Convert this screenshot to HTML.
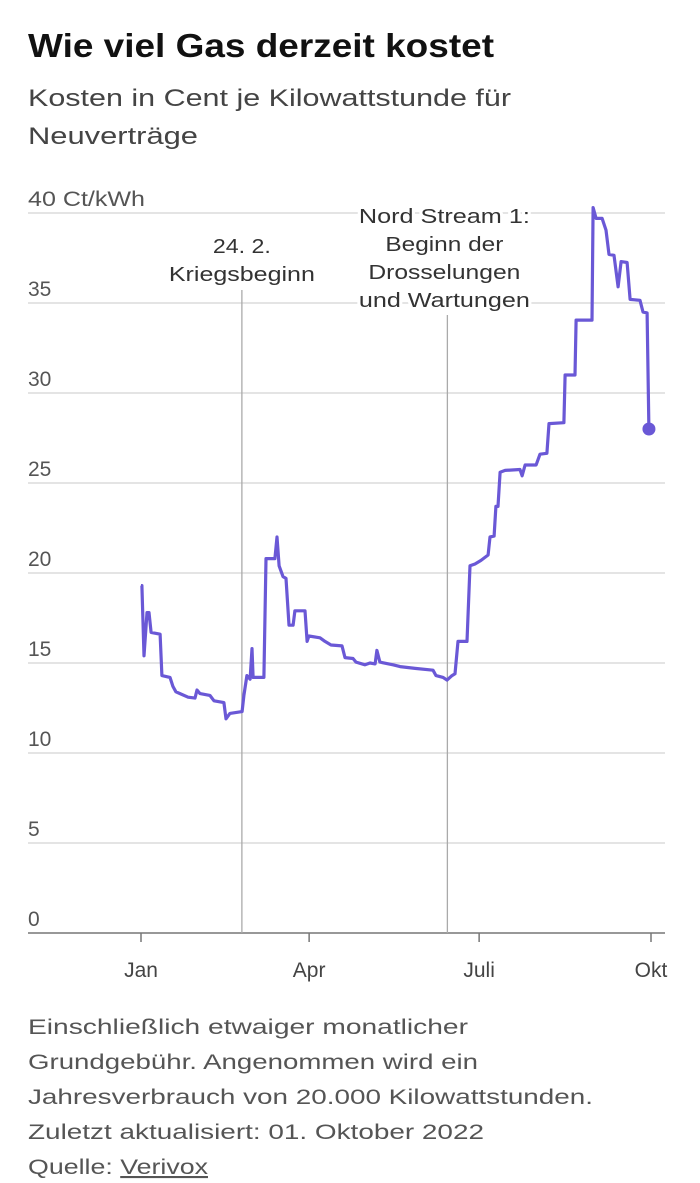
<!DOCTYPE html>
<html><head><meta charset="utf-8"><style>
body{margin:0;width:700px;height:1183px;background:#fff;font-family:"Liberation Sans",sans-serif;overflow:hidden}
</style></head><body>
<svg width="700" height="1183" style="position:absolute;left:0;top:0">
<text x="28" y="57" font-size="33" font-weight="bold" fill="#111" textLength="466" lengthAdjust="spacingAndGlyphs">Wie viel Gas derzeit kostet</text>
<text x="28" y="106" font-size="24" fill="#444" textLength="483" lengthAdjust="spacingAndGlyphs">Kosten in Cent je Kilowattstunde für</text>
<text x="28" y="144" font-size="24" fill="#444" textLength="170" lengthAdjust="spacingAndGlyphs">Neuverträge</text>
<g id="grid"></g>
<g id="ann"></g>
<g id="marks"></g>
<g font-size="21" fill="#555">
<text x="28" y="1034" textLength="440" lengthAdjust="spacingAndGlyphs">Einschließlich etwaiger monatlicher</text>
<text x="28" y="1069" textLength="450" lengthAdjust="spacingAndGlyphs">Grundgebühr. Angenommen wird ein</text>
<text x="28" y="1104" textLength="565" lengthAdjust="spacingAndGlyphs">Jahresverbrauch von 20.000 Kilowattstunden.</text>
<text x="28" y="1139" textLength="456" lengthAdjust="spacingAndGlyphs">Zuletzt aktualisiert: 01. Oktober 2022</text>
<text x="28" y="1174" textLength="180" lengthAdjust="spacingAndGlyphs">Quelle: <tspan text-decoration="underline">Verivox</tspan></text>
</g>
</svg>
<script>
const yTicks=[0,5,10,15,20,25,30,35,40];
const yTickLabels=["0","5","10","15","20","25","30","35","40 Ct/kWh"];
const xTickDays=[0,90,181,273];
const xTickLabels=["Jan","Apr","Juli","Okt"];
const days=[0,0.5,1.6,3.2,4.3,5.4,10.2,11.2,15.5,17.1,18.7,20.9,25.2,28.9,30.0,31.6,36.9,39.1,44.4,45.5,47.6,54.1,55.1,56.7,58.4,59.4,60.0,65.8,66.9,71.7,72.8,73.9,76.0,77.6,79.2,81.4,82.4,87.8,88.9,89.9,95.8,98.5,101.7,107.6,109.2,113.5,115.1,119.9,122.6,125.3,126.3,127.9,134.9,138.7,146.7,156.3,157.9,161.7,163.8,166.5,168.1,169.7,174.5,176.1,178.8,182.0,185.8,186.8,189.0,190.0,191.1,192.2,194.9,202.9,204.0,205.6,211.5,213.6,217.3,218.4,226.4,227.0,232.3,232.9,241.4,242.0,243.6,246.8,248.9,250.5,253.2,255.4,257.0,260.2,261.8,267.1,268.7,270.9,271.9];
const prices=[19.3,19.3,15.4,17.8,17.8,16.7,16.6,14.3,14.2,13.7,13.4,13.3,13.1,13.05,13.5,13.3,13.2,12.9,12.8,11.9,12.2,12.3,13.2,14.3,14.1,15.8,14.2,14.2,20.8,20.8,22.0,20.4,19.8,19.7,17.1,17.1,17.9,17.9,16.2,16.5,16.4,16.2,16.0,15.95,15.3,15.25,15.05,14.9,15.0,14.95,15.7,15.05,14.9,14.8,14.7,14.6,14.3,14.2,14.05,14.3,14.4,16.2,16.2,20.4,20.5,20.7,21.0,22.0,22.05,23.7,23.7,25.6,25.7,25.75,25.4,26.0,26.0,26.6,26.65,28.3,28.35,31.0,31.0,34.05,34.05,40.3,39.7,39.7,39.05,37.7,37.65,35.9,37.3,37.25,35.2,35.15,34.5,34.45,28.0];
const annDays=[54,164];
const NS="http://www.w3.org/2000/svg";
const X=d=>141+d*(510/273);
const Y=v=>933-v*18;
function mk(tag,attrs,parent,txt){const e=document.createElementNS(NS,tag);for(const k in attrs)e.setAttribute(k,attrs[k]);if(txt!==undefined)e.textContent=txt;document.getElementById(parent).appendChild(e);return e;}
yTicks.forEach((v,i)=>{
  const l=mk('line',{x1:28,x2:665,y1:Y(v),y2:Y(v),stroke:v===0?'#777':'#d4d4d4','stroke-width':v===0?1.5:1.2},'grid');
  
  
  const a={x:28,y:Y(v)-7,'font-size':21,fill:'#555'};
  if(i===yTicks.length-1){a.textLength=117;a.lengthAdjust='spacingAndGlyphs';}
  const t=mk('text',a,'grid',yTickLabels[i]);
  
  
});
xTickDays.forEach((d,i)=>{
  const l=mk('line',{x1:X(d),x2:X(d),y1:933,y2:942,stroke:'#777','stroke-width':1.5},'grid');
  
  
  const t=mk('text',{x:X(d),y:977,'font-size':21,fill:'#444','text-anchor':'middle'},'grid',xTickLabels[i]);
  
  
});
const annTop=[290,315];
const annText=[["24. 2.","Kriegsbeginn"],["Nord Stream 1:","Beginn der","Drosselungen","und Wartungen"]];
const annW=[[58,146],[171,118,152,171]];
const annY=[[253,281],[223,251,279,307]];
annDays.forEach((d,i)=>{
  const l=mk('line',{x1:X(d),x2:X(d),y1:annTop[i],y2:933,stroke:'#aaa','stroke-width':1.3},'ann');
  
  
  annText[i].forEach((s,j)=>{
    const t=mk('text',{x:X(d)-(i?3:0),y:annY[i][j],'font-size':20,fill:'#333','text-anchor':'middle',stroke:'#fff','stroke-width':5,'paint-order':'stroke',textLength:annW[i][j],lengthAdjust:'spacingAndGlyphs'},'ann',s);
    
    
  });
});
const pts=days.map((d,i)=>X(d).toFixed(1)+','+Y(prices[i]).toFixed(1)).join(' ');
const pl=mk('polyline',{points:pts,fill:'none',stroke:'#6a58d6','stroke-width':3.2,'stroke-linejoin':'round'},'marks');


const n=days.length-1;
const c=mk('circle',{cx:X(days[n]),cy:Y(prices[n]),r:6.5,fill:'#6a58d6'},'marks');


</script>
</body></html>
